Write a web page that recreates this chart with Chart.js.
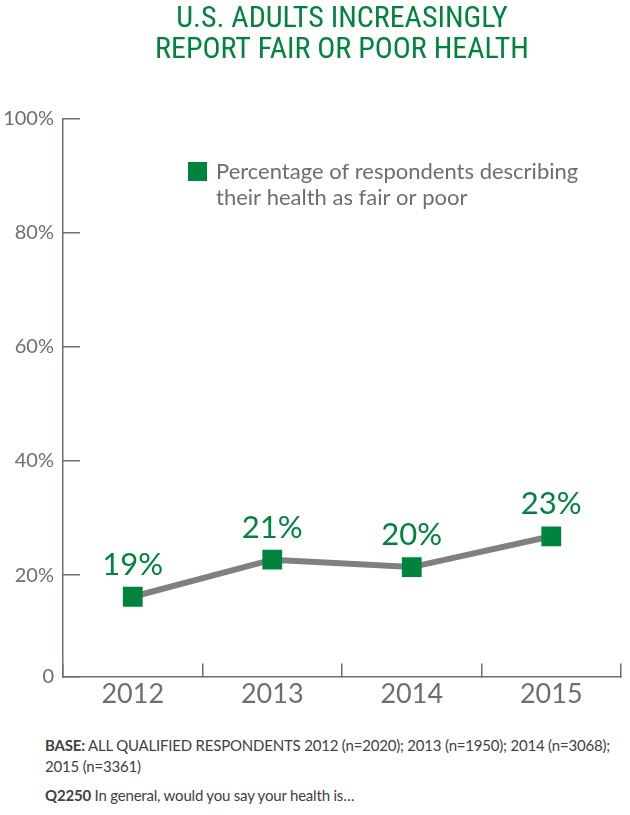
<!DOCTYPE html>
<html lang="en">
<head>
    <meta charset="UTF-8">
    <title>U.S. Adults Increasingly Report Fair or Poor Health</title>
    <script src="https://cdn.jsdelivr.net/npm/chart.js"></script>
    <style>
        body {
            margin: 0;
            background: #ffffff;
            width: 630px;
            height: 815px;
            position: relative;
            font-family: Lato, "Open Sans", sans-serif;
        }
        .chart-box {
            position: absolute;
            left: 0;
            top: 0;
            width: 630px;
            height: 724px;
        }
        .note {
            position: absolute;
            left: 45px;
            top: 735px;
            width: 580px;
            font-size: 15px;
            letter-spacing: -0.2px;
            line-height: 21px;
            color: #414042;
        }
        .note p { margin: 0 0 8px 0; }
    </style>
</head>
<body>
    <div class="chart-box">
        <canvas id="healthChart"></canvas>
    </div>
    <div class="note">
        <p><b>BASE:</b> ALL QUALIFIED RESPONDENTS 2012 (n=2020); 2013 (n=1950); 2014 (n=3068); 2015 (n=3361)</p>
        <p><b>Q2250</b> In general, would you say your health is…</p>
    </div>

    <script>
        // data (plotted heights) plus the printed labels
        const years = ['2012', '2013', '2014', '2015'];
        const plotted = [16.2, 22.7, 21.4, 26.8];
        const printed = ['19%', '21%', '20%', '23%'];
        const yTicks = [2.2, 20, 40, 60, 80, 100];
        const yTickText = ['0', '20%', '40%', '60%', '80%', '100%'];
        const legendLines = ['Percentage of respondents describing', 'their health as fair or poor'];

        const green = '#00843d';
        const grey = '#6d6e71';

        // value labels above each square
        const valueLabels = {
            id: 'valueLabels',
            afterDatasetsDraw(chart) {
                const ctx = chart.ctx;
                const meta = chart.getDatasetMeta(0);
                ctx.save();
                ctx.fillStyle = green;
                ctx.font = '31px Lato, "Open Sans", sans-serif';
                ctx.textAlign = 'center';
                ctx.textBaseline = 'middle';
                meta.data.forEach((pt, i) => {
                    ctx.fillText(printed[i], pt.x, pt.y - 32);
                });
                ctx.restore();
            }
        };

        // legend box in the upper part of the plot
        const legendBox = {
            id: 'legendBox',
            afterDraw(chart) {
                const ctx = chart.ctx;
                ctx.save();
                ctx.fillStyle = green;
                ctx.fillRect(188, 162, 19, 19);
                ctx.fillStyle = grey;
                ctx.font = '22px Lato, "Open Sans", sans-serif';
                ctx.textBaseline = 'middle';
                legendLines.forEach((line, i) => {
                    ctx.fillText(line, 216, 172 + i * 26);
                });
                ctx.restore();
            }
        };

        new Chart(document.getElementById('healthChart'), {
            type: 'line',
            data: {
                labels: years,
                datasets: [{
                    data: plotted,
                    borderColor: '#808080',
                    borderWidth: 6,
                    pointStyle: 'rect',
                    pointRadius: 14,
                    pointHoverRadius: 14,
                    pointBackgroundColor: green,
                    pointBorderColor: green,
                    pointBorderWidth: 0,
                    tension: 0,
                    fill: false
                }]
            },
            options: {
                responsive: true,
                maintainAspectRatio: false,
                animation: false,
                layout: { autoPadding: false, padding: { top: 0, right: 9, bottom: 0, left: 0 } },
                plugins: {
                    legend: { display: false },
                    tooltip: { enabled: false },
                    title: {
                        display: true,
                        fullSize: false,
                        text: ['U.S. ADULTS INCREASINGLY', 'REPORT FAIR OR POOR HEALTH'],
                        color: green,
                        font: { family: '"Liberation Sans Narrow", "Roboto Condensed", sans-serif', size: 30, weight: 'normal', lineHeight: 1.03 },
                        padding: { top: 4, bottom: 53 }
                    }
                },
                scales: {
                    x: {
                        offset: true,
                        border: { color: grey, width: 1.5 },
                        grid: {
                            offset: true,
                            drawOnChartArea: false,
                            color: grey,
                            lineWidth: 1.5,
                            tickLength: -13
                        },
                        ticks: {
                            color: grey,
                            padding: 14,
                            font: { family: 'Lato, "Open Sans", sans-serif', size: 27 }
                        }
                    },
                    y: {
                        min: 2.2,
                        max: 100,
                        afterBuildTicks(scale) {
                            scale.ticks = yTicks.map(v => ({ value: v }));
                        },
                        afterFit(scale) {
                            scale.width = 63;
                        },
                        border: { color: grey, width: 1.5 },
                        grid: {
                            drawOnChartArea: false,
                            color: grey,
                            lineWidth: 1.5,
                            tickLength: -17
                        },
                        ticks: {
                            color: grey,
                            padding: 26,
                            font: { family: 'Lato, "Open Sans", sans-serif', size: 20 },
                            callback: (v, i) => yTickText[i]
                        }
                    }
                }
            },
            plugins: [valueLabels, legendBox]
        });
    </script>
</body>
</html>
